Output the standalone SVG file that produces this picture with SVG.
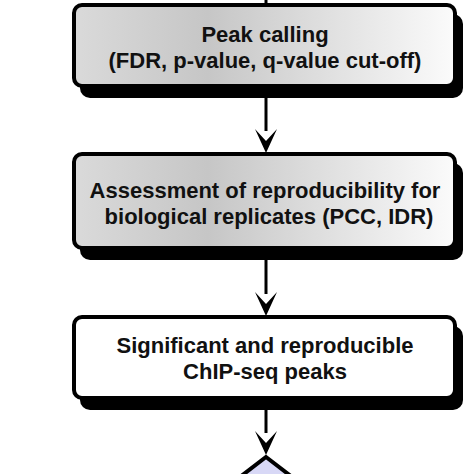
<svg xmlns="http://www.w3.org/2000/svg" width="474" height="474" viewBox="0 0 474 474">
<defs>
<linearGradient id="grey" x1="0" y1="0" x2="1" y2="0">
<stop offset="0" stop-color="#dadada"/>
<stop offset="0.35" stop-color="#c6c6c6"/>
<stop offset="1" stop-color="#fbfbfb"/>
</linearGradient>
</defs>
<style>
.box{stroke:#000;stroke-width:4}
.shadow{fill:#000}
.t{font-family:"Liberation Sans",Arial,Helvetica,sans-serif;font-weight:bold;font-size:22px;fill:#111;text-anchor:middle}
.c{stroke:#000;stroke-width:3;fill:none}
.head{fill:#000}
</style>
<rect width="474" height="474" fill="#fff"/>
<g id="connectors">
<line class="c" x1="266" y1="0" x2="266" y2="4"/>
<line class="c" x1="266" y1="96" x2="266" y2="131"/>
<path class="head" d="M255,129 L266,141 L277,129 L266,153 Z"/>
<line class="c" x1="266" y1="258" x2="266" y2="294"/>
<path class="head" d="M255,292 L266,304 L277,292 L266,316 Z"/>
<line class="c" x1="266" y1="408" x2="266" y2="433"/>
<path class="head" d="M255,431 L266,443 L277,431 L266,455 Z"/>
</g>
<g id="node1">
<rect class="shadow" x="80" y="14" width="383" height="84" rx="10"/>
<rect class="box" x="74" y="5" width="381" height="81" rx="8" fill="url(#grey)"/>
<text class="t" x="265" y="42">Peak calling</text>
<text class="t" x="265" y="68">(FDR, p-value, q-value cut-off)</text>
</g>
<g id="node2">
<rect class="shadow" x="80" y="163" width="383" height="97" rx="10"/>
<rect class="box" x="74" y="154" width="381" height="94" rx="8" fill="url(#grey)"/>
<text class="t" x="265" y="198">Assessment of reproducibility for</text>
<text class="t" x="269" y="224">biological replicates (PCC, IDR)</text>
</g>
<g id="node3">
<rect class="shadow" x="80" y="326" width="383" height="84" rx="10"/>
<rect class="box" x="74" y="317" width="381" height="81" rx="8" fill="#fff"/>
<text class="t" x="265" y="353">Significant and reproducible</text>
<text class="t" x="265" y="379">ChIP-seq peaks</text>
</g>
<g id="node4">
<polygon points="266,457 322,500 266,543 210,500" fill="#d8d8f6" stroke="#000" stroke-width="4"/>
</g>
</svg>
